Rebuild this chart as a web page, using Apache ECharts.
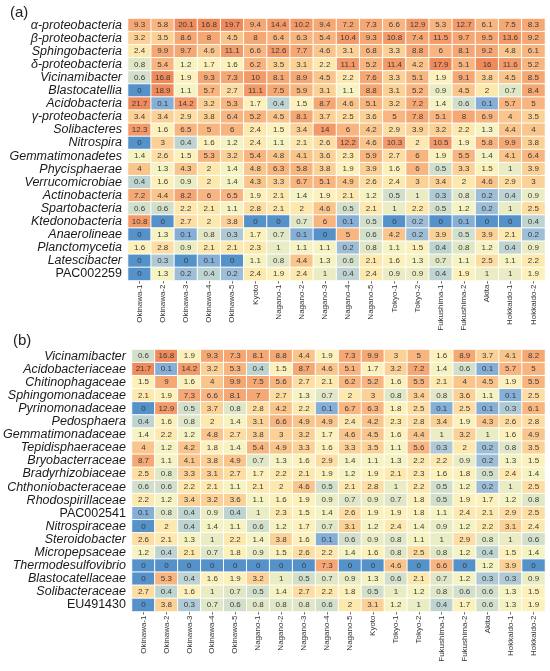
<!DOCTYPE html>
<html>
<head>
<meta charset="utf-8">
<script src="https://cdn.jsdelivr.net/npm/echarts@6/dist/echarts.min.js"></script>
<style>
html,body{margin:0;padding:0;background:#fff;}
#chart{width:550px;height:671px;}
</style>
</head>
<body>
<div id="chart"></div>
<script>
// ---------- Panel (a) ----------
const colsA = ['Okinawa-1','Okinawa-2','Okinawa-3','Okinawa-4','Okinawa-5','Kyoto','Nagano-1','Nagano-2','Nagano-3','Nagano-4','Nagano-5','Tokyo-1','Tokyo-2','Fukushima-1','Fukushima-2','Akita','Hokkaido-1','Hokkaido-2'];
const rowsA = ['α-proteobacteria','β-proteobacteria','Sphingobacteria','δ-proteobacteria','Vicinamibacter','Blastocatellia','Acidobacteria','γ-proteobacteria','Solibacteres','Nitrospira','Gemmatimonadetes','Phycisphaerae','Verrucomicrobiae','Actinobacteria','Spartobacteria','Ktedonobacteria','Anaerolineae','Planctomycetia','Latescibacter','PAC002259'];
const plainA = ['PAC002259'];
const valsA = [
  [9.3,5.8,20.1,16.8,19.7,9.4,14.4,10.2,9.4,7.2,7.3,6.6,12.9,5.3,12.7,6.1,7.5,8.3],
  [3.2,3.5,8.6,8,4.5,8,6.4,6.3,5.4,10.4,9.3,10.8,7.4,11.5,9.7,9.5,13.6,9.2],
  [2.4,9.9,9.7,4.6,11.1,6.6,12.6,7.7,4.6,3.1,6.8,3.3,8.8,6,8.1,9.2,4.8,6.1],
  [0.8,5.4,1.2,1.7,1.6,6.2,3.5,3.1,2.2,11.1,5.2,11.4,4.2,17.9,5.1,16,11.6,5.2],
  [0.6,16.8,1.9,9.3,7.3,10,8.1,8.9,4.5,2.2,7.6,3.3,5.1,1.9,9.1,3.8,4.5,8.5],
  [0,18.9,1.1,5.7,2.7,11.1,7.5,5.9,3.1,1.1,8.8,3.1,5.2,0.9,4.5,2,0.7,8.4],
  [21.7,0.1,14.2,3.2,5.3,1.7,0.4,1.5,8.7,4.6,5.1,3.2,7.2,1.4,0.6,0.1,5.7,5],
  [3.4,3.4,2.9,3.8,6.4,5.2,4.5,8.1,3.7,2.5,3.6,5,7.8,5.1,8,6.9,4,3.5],
  [12.3,1.6,6.5,5,6,2.4,1.5,3.4,14,6,4.2,2.9,3.9,3.2,2.2,1.3,4.4,4],
  [0,3,0.4,1.6,1.2,2.4,1.1,2.1,2.6,12.2,4.6,10.3,2,10.5,1.9,5.8,9.9,3.8],
  [1.4,2.6,1.5,5.3,3.2,5.4,4.8,4.1,3.6,2.3,5.9,2.7,6,1.9,5.5,1.4,4.1,6.4],
  [4,1.3,4.3,2,1.4,4.8,6.3,5.8,3.8,1.9,3.9,1.6,6,0.5,3.3,1.5,1,3.9],
  [0.4,1.6,0.9,2,1.4,4.3,3.3,6.7,5.1,4.9,2.6,2.4,3,3.4,2,4.6,2.9,3],
  [7.2,4.4,8.2,6,6.5,1.9,2.1,1.4,1.9,2.1,1.2,0.5,1,0.3,0.8,0.2,0.4,0.9],
  [0.6,0.6,2.2,2.1,1.1,2.8,2.1,2,4.6,0.5,2.1,1,2.2,0.5,1.2,0.2,1,2.5],
  [10.8,0,2.7,2,3.8,0,0,0.7,6,0.1,0.5,0,0.2,0,0.1,0,0,0.4],
  [0,1.3,0.1,0.8,0.3,1.7,0.7,0.1,0,5,0.6,4.2,0.2,3.9,0.5,3.9,2.1,0.2],
  [1.6,2.8,0.9,2.1,2.1,2.3,1,1.1,1.1,0.2,0.8,1.1,1.5,0.4,0.8,1.2,0.4,0.9],
  [0,0.3,0,0.1,0,1.1,0.8,4.4,1.3,0.6,2.1,1.6,1.3,0.7,1.1,2.5,1.1,2.2],
  [0,1.3,0.2,0.4,0.2,2.4,1.9,2.4,1,0.4,2.4,0.9,0.9,0.4,1.9,1,1,1.9]
];

// ---------- Panel (b) ----------
const colsB = ['Okinawa-1','Okinawa-2','Okinawa-3','Okinawa-4','Okinawa-5','Nagano-1','Nagano-2','Nagano-3','Nagano-4','Nagano-5','Kyoto','Tokyo-1','Tokyo-2','Fukushima-1','Fukushima-2','Akita','Hokkaido-1','Hokkaido-2'];
const rowsB = ['Vicinamibacter','Acidobacteriaceae','Chitinophagaceae','Sphingomonadaceae','Pyrinomonadaceae','Pedosphaera','Gemmatimonadaceae','Tepidisphaeraceae','Bryobacterraceae','Bradyrhizobiaceae','Chthoniobacteraceae','Rhodospirillaceae','PAC002541','Nitrospiraceae','Steroidobacter','Micropepsaceae','Thermodesulfovibrio','Blastocatellaceae','Solibacteraceae','EU491430'];
const plainB = ['PAC002541','EU491430'];
const valsB = [
  [0.6,16.8,1.9,9.3,7.3,8.1,8.8,4.4,1.9,7.3,9.9,3,5,1.6,8.9,3.7,4.1,8.2],
  [21.7,0.1,14.2,3.2,5.3,0.4,1.5,8.7,4.6,5.1,1.7,3.2,7.2,1.4,0.6,0.1,5.7,5],
  [1.5,9,1.6,4,9.9,7.5,5.6,2.7,2.1,6.2,5.2,1.6,5.5,2.1,4,4.5,1.9,5.5],
  [2.1,1.9,7.3,6.6,8.1,7,2.7,1.3,0.7,2,3,0.8,3.4,0.8,3.6,1.1,0.1,2.5],
  [0,12.9,0.5,3.7,0.8,2.8,4.2,2.2,0.1,6.7,6.3,1.8,2.5,0.1,2.5,0.1,0.3,6.1],
  [0.4,1.6,0.8,2,1.4,3.1,6.6,4.9,4.9,2.4,4.2,2.3,2.8,3.4,1.9,4.3,2.6,2.8],
  [1.4,2.2,1.2,4.8,2.7,3.8,3,3.2,1.7,4.6,4.5,1.6,4.4,1,3.2,1,1.6,4.9],
  [4,1.2,4.2,1.8,1.4,5.4,4.9,3.3,1.6,3.3,3.5,1.1,5.6,0.3,2,0.2,0.8,3.5],
  [8.7,1.1,4.1,3.8,4.9,0.7,1.3,1.6,2.9,1.4,1.1,1.3,2.2,2.2,0.9,0.2,1.3,1.5],
  [2.5,0.8,3.3,3.1,2.7,1.7,2.2,2.1,1.9,1.2,1.9,2.1,2.3,1.6,1.8,0.5,2.4,1.4],
  [0.6,0.6,2.2,2.1,1.1,2.1,2,4.6,0.5,2.1,2.8,1,2.2,0.5,1.2,0.2,1,2.5],
  [2.2,1.2,3.4,3.2,3.6,1.1,1.6,1.9,0.9,0.7,0.9,0.7,1.8,0.5,1.9,1.7,1.2,0.8],
  [0.1,0.8,0.4,0.9,0.4,1,2.3,1.5,1.4,2.6,1.9,1.9,1.8,1.1,2.4,2.1,2.9,2.5],
  [0,2,0.4,1.4,1.1,0.6,1.2,1.7,0.7,3.1,1.2,2.4,1.4,0.9,1.2,2.2,3.1,2.4],
  [2.6,2.1,1.3,1,2.2,1.4,3.8,1.6,0.1,0.6,0.9,0.8,1.1,1,2.9,0.8,1,0.6],
  [1.2,0.4,2.1,0.7,1.8,0.9,1.5,2.6,2.2,1.4,1.6,0.8,2.5,0.8,1.2,0.4,1.5,1.4],
  [0,0,0,0,0,0,0,0,7.3,0,0,4.6,0,6.6,0,1.2,3.9,0],
  [0,5.3,0.4,1.6,1.9,3.2,1,0.5,0.7,0.9,1.3,0.6,2.1,0.7,1.2,0.3,0.3,0.9],
  [2.7,0.4,1.6,1,0.7,0.5,1.4,2.7,2.2,1.8,0.5,1,1.2,0.8,0.6,0.6,1.3,1.5],
  [0,3.8,0.3,0.7,0.6,0.8,0.8,0.8,0.6,2,3.1,1.2,1,0.4,1.7,0.6,1.3,1.9]
];

// ---------- build ----------
function cells(vals){
  const out=[];
  vals.forEach((row,r)=>row.forEach((v,c)=>out.push([c,r,v])));
  return out;
}
function yData(rows, plain){
  return rows.map(n=>plain.includes(n)?{value:n,textStyle:{fontStyle:'normal'}}:n);
}
const FONT = '"Liberation Sans", Arial, sans-serif';
const rowH = 13.1;
const topA = 18.5, topB = 349.5;
const gridH = rowH*20;

const pieces = [
  {lt:0.05, color:'#5592ca'},
  {gte:0.05, lt:0.15, color:'#85afd6'},
  {gte:0.15, lt:0.25, color:'#9dbed6'},
  {gte:0.25, lt:0.35, color:'#b0cad5'},
  {gte:0.35, lt:0.45, color:'#bed4d0'},
  {gte:0.45, lt:0.65, color:'#d2dfcb'},
  {gte:0.65, lt:0.85, color:'#e0e7c6'},
  {gte:0.85, lt:1.05, color:'#eaedc3'},
  {gte:1.05, lt:1.45, color:'#f6f3c2'},
  {gte:1.45, lt:1.95, color:'#fdf1bb'},
  {gte:1.95, lt:2.45, color:'#fde8ae'},
  {gte:2.45, lt:2.95, color:'#fddda2'},
  {gte:2.95, lt:3.95, color:'#fcd196'},
  {gte:3.95, lt:4.95, color:'#fac58b'},
  {gte:4.95, lt:6.95, color:'#f8b57f'},
  {gte:6.95, lt:9.95, color:'#f6a874'},
  {gte:9.95, lt:14.95, color:'#f39a68'},
  {gte:14.95, color:'#ef8b5b'}
];

function xAxis(cols, gi){
  return {type:'category', data:cols, gridIndex:gi, position:'bottom',
    axisLine:{show:false}, splitLine:{show:false},
    axisTick:{show:true, alignWithLabel:true, length:3, lineStyle:{color:'#666'}},
    axisLabel:{rotate:90, fontSize:8, color:'#333', fontFamily:FONT, margin:4, interval:0}};
}
function yAxis(rows, plain, gi){
  return {type:'category', data:yData(rows,plain), gridIndex:gi, inverse:true,
    axisLine:{show:false}, axisTick:{show:false}, splitLine:{show:false},
    axisLabel:{fontSize:12.5, fontStyle:'italic', color:'#1a1a1a', fontFamily:FONT, margin:6, interval:0}};
}
function series(vals, gi){
  return {type:'heatmap', xAxisIndex:gi, yAxisIndex:gi, data:cells(vals),
    itemStyle:{borderColor:'#fff', borderWidth:1},
    label:{show:true, fontSize:8, color:'#3a3a3a', fontFamily:FONT,
      formatter:p=>String(p.value[2])},
    emphasis:{disabled:true}};
}

const chart = echarts.init(document.getElementById('chart'), null, {renderer:'canvas'});
chart.setOption({
  backgroundColor:'#fff',
  animation:false,
  grid:[
    {left:128, width:417, top:topA, height:gridH},
    {left:128, width:417, top:topB, height:gridH}
  ],
  xAxis:[xAxis(colsA,0), xAxis(colsB,1)],
  yAxis:[yAxis(rowsA,plainA,0), yAxis(rowsB,plainB,1)],
  visualMap:{type:'piecewise', show:false, dimension:2, seriesIndex:[0,1], pieces:pieces},
  graphic:[
    {type:'text', left:10, top:5, style:{text:'(a)', fontSize:15, fill:'#222', fontFamily:FONT}},
    {type:'text', left:13, top:333, style:{text:'(b)', fontSize:15, fill:'#222', fontFamily:FONT}}
  ],
  series:[series(valsA,0), series(valsB,1)]
});
</script>
</body>
</html>
